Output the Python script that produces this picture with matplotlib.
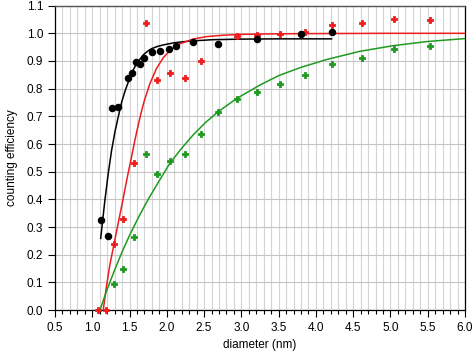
"""
counting efficiency vs particle diameter, three data sets with fitted curves
"""
import numpy as np
import matplotlib
matplotlib.use("Agg")
import matplotlib.pyplot as plt
import matplotlib.ticker as mtick

plt.rcParams['font.family'] = ['Liberation Sans', 'DejaVu Sans']

# black data set (circles)
black_d = [1.113, 1.215, 1.268, 1.34, 1.483, 1.528, 1.582, 1.64, 1.693, 1.805,
           1.907, 2.03, 2.13, 2.345, 2.69, 3.21, 3.80, 4.217]
black_eff = [0.326, 0.267, 0.729, 0.735, 0.840, 0.858, 0.896, 0.889, 0.912, 0.931,
             0.937, 0.943, 0.954, 0.967, 0.960, 0.979, 0.997, 1.004]

# red data set
red_d = [1.08, 1.19, 1.295, 1.416, 1.559, 1.716, 1.871, 2.04, 2.247, 2.457,
         2.944, 3.21, 3.525, 3.86, 4.217, 4.62, 5.05, 5.53]
red_eff = [0.0, 0.0, 0.240, 0.330, 0.530, 1.037, 0.832, 0.855, 0.840, 0.899,
           0.991, 0.993, 0.997, 1.006, 1.029, 1.036, 1.052, 1.049]

# green data set
green_d = [1.295, 1.416, 1.559, 1.716, 1.871, 2.04, 2.247, 2.457, 2.69, 2.944,
           3.21, 3.525, 3.86, 4.217, 4.62, 5.05, 5.53]
green_eff = [0.093, 0.147, 0.263, 0.565, 0.493, 0.540, 0.565, 0.637, 0.716, 0.764,
             0.789, 0.818, 0.848, 0.888, 0.912, 0.942, 0.955]

# fitted curves, points
black_fit_d = [1.113, 1.17, 1.215, 1.26, 1.305, 1.35, 1.395, 1.438, 1.505, 1.55,
               1.60, 1.684, 1.75, 1.80, 1.88, 1.952, 2.10, 2.31, 2.62, 3.0, 3.5, 4.21]
black_fit_eff = [0.259, 0.398, 0.495, 0.578, 0.645, 0.70, 0.752, 0.790, 0.840, 0.868,
                 0.893, 0.922, 0.937, 0.945, 0.953, 0.958, 0.966, 0.972, 0.977, 0.979,
                 0.980, 0.980]

red_fit_d = [1.147, 1.19, 1.237, 1.304, 1.36, 1.416, 1.47, 1.528, 1.575, 1.62,
             1.66, 1.70, 1.773, 1.86, 1.952, 2.05, 2.176, 2.35, 2.53, 2.75, 2.98,
             3.4, 4.0, 5.0, 6.0]
red_fit_eff = [0.0, 0.085, 0.165, 0.255, 0.33, 0.405, 0.48, 0.555, 0.618, 0.672,
               0.718, 0.758, 0.818, 0.872, 0.912, 0.940, 0.962, 0.979, 0.988, 0.993,
               0.996, 0.998, 0.999, 1.0, 1.0]

green_fit_d = [1.103, 1.2, 1.3, 1.4, 1.5, 1.62, 1.75, 1.9, 2.04, 2.2, 2.354, 2.52,
               2.69, 2.935, 3.248, 3.507, 3.8, 4.14, 4.59, 5.03, 5.48, 6.0]
green_fit_eff = [0.0, 0.075, 0.145, 0.21, 0.27, 0.335, 0.40, 0.468, 0.530, 0.585,
                 0.633, 0.678, 0.717, 0.764, 0.813, 0.848, 0.877, 0.905, 0.935,
                 0.955, 0.970, 0.981]

red = '#ee1c1c'
green = '#1f9a1f'

fig = plt.figure(figsize=(4.74, 3.52), dpi=100)
ax = fig.add_axes([0.116, 0.119, 0.865, 0.865])

ax.plot(black_fit_d, black_fit_eff, '-', color='black', lw=1.1, zorder=3)
ax.plot(red_fit_d, red_fit_eff, '-', color=red, lw=1.1, zorder=3)
ax.plot(green_fit_d, green_fit_eff, '-', color=green, lw=1.1, zorder=3)

ax.plot(red_d, red_eff, 'P', color=red, ms=5, mew=0.6, clip_on=False, zorder=4)
ax.plot(green_d, green_eff, 'P', color=green, ms=5, mew=0.6, clip_on=False, zorder=4)
ax.plot(black_d, black_eff, 'o', color='black', ms=5.4, mew=0, clip_on=False, zorder=5)

ax.set_xlim(0.5, 6.0)
ax.set_ylim(0.0, 1.1)
ax.xaxis.set_major_locator(mtick.MultipleLocator(0.5))
ax.xaxis.set_minor_locator(mtick.MultipleLocator(0.1))
ax.yaxis.set_major_locator(mtick.MultipleLocator(0.1))
ax.xaxis.set_major_formatter(mtick.FormatStrFormatter('%.1f'))
ax.yaxis.set_major_formatter(mtick.FormatStrFormatter('%.1f'))

ax.grid(True, which='both', axis='x', color='#d4d4d4', lw=0.8)
ax.grid(True, which='major', axis='y', color='#c4c4c4', lw=0.8)
ax.set_axisbelow(True)

ax.tick_params(which='major', direction='out', length=5, width=0.8, labelsize=8.5)
ax.tick_params(which='minor', direction='out', length=3, width=0.8)
ax.tick_params(top=False, right=False)

for s in ['left', 'bottom', 'right']:
    ax.spines[s].set_color('black')
    ax.spines[s].set_linewidth(0.9)
ax.spines['top'].set_color('#555555')
ax.spines['top'].set_linewidth(1.0)

ax.set_xlabel('diameter (nm)', fontsize=8.5, labelpad=4)
ax.set_ylabel('counting efficiency', fontsize=8.5, labelpad=6)

fig.savefig('out.png', dpi=100)
